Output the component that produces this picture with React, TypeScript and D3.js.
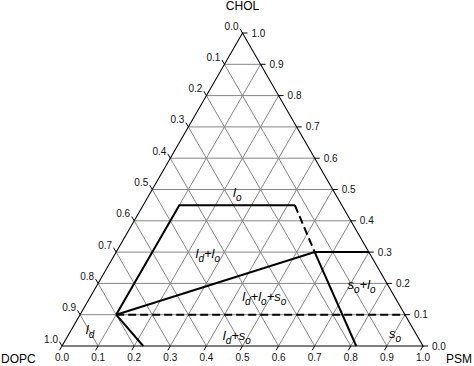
import React from "react";
import * as d3 from "d3";

// Ternary composition: each point is [PSM fraction, CHOL fraction]; DOPC = 1 - PSM - CHOL
type Comp = [number, number];

const tickValues = [0, 0.1, 0.2, 0.3, 0.4, 0.5, 0.6, 0.7, 0.8, 0.9, 1.0];
const tickLabels = ["0.0", "0.1", "0.2", "0.3", "0.4", "0.5", "0.6", "0.7", "0.8", "0.9", "1.0"];
const gridSteps = [0.1, 0.2, 0.3, 0.4, 0.5, 0.6, 0.7, 0.8, 0.9];

// Phase boundaries (solid)
const loBoundary: Comp[] = [[0.1, 0.1], [0.1, 0.45], [0.42, 0.45]];
const upperTieTriangle: Comp[] = [[0.1, 0.1], [0.55, 0.3], [0.7, 0.3]];
const soBoundary: Comp[] = [[0.55, 0.3], [0.815, 0.0]];
const ldBoundary: Comp[] = [[0.1, 0.1], [0.225, 0.0]];
// Phase boundaries (dashed)
const loTie: Comp[] = [[0.42, 0.45], [0.55, 0.3]];
const lowerTieTriangle: Comp[] = [[0.1, 0.1], [0.9, 0.1]];

// Phase region labels: [main, sub] parts, anchored at a composition
type Part = { t: string; sub?: boolean };
const phaseLabels: { parts: Part[]; at: Comp }[] = [
  { parts: [{ t: "l" }, { t: "o", sub: true }], at: [0.236, 0.476] },
  { parts: [{ t: "l" }, { t: "d", sub: true }, { t: "+l" }, { t: "o", sub: true }], at: [0.23, 0.28] },
  { parts: [{ t: "l" }, { t: "d", sub: true }, { t: "+l" }, { t: "o", sub: true }, { t: "+s" }, { t: "o", sub: true }], at: [0.427, 0.144] },
  { parts: [{ t: "s" }, { t: "o", sub: true }, { t: "+l" }, { t: "o", sub: true }], at: [0.70, 0.182] },
  { parts: [{ t: "l" }, { t: "d", sub: true }, { t: "+s" }, { t: "o", sub: true }], at: [0.436, 0.019] },
  { parts: [{ t: "s" }, { t: "o", sub: true }], at: [0.893, 0.026] },
  { parts: [{ t: "l" }, { t: "d", sub: true }], at: [0.047, 0.038] },
];

const W = 474;
const H = 366;
const xScale = d3.scaleLinear().domain([0, 1]).range([62, 423]);
const yScale = d3.scaleLinear().domain([0, 1]).range([346, 33]);

const px = ([p, c]: Comp): [number, number] => [xScale(p + c / 2), yScale(c)];

const line = d3
  .line<Comp>()
  .x((d) => px(d)[0])
  .y((d) => px(d)[1]);

const FONT = "'Liberation Sans', Arial, Helvetica, sans-serif";

export default function App() {
  const corners: Comp[] = [[0, 0], [1, 0], [0, 1], [0, 0]];
  const tickLen = 5;
  return (
    <div style={{ position: "fixed", left: 0, top: 0 }}>
      <svg width={W} height={H} style={{ display: "block", background: "#fff" }} fontFamily={FONT}>
        {/* grid */}
        <g stroke="#858585" strokeWidth={1} fill="none">
          {gridSteps.map((v) => (
            <g key={v}>
              <path d={line([[0, v], [1 - v, v]]) ?? ""} />
              <path d={line([[v, 0], [v, 1 - v]]) ?? ""} />
              <path d={line([[1 - v, 0], [0, 1 - v]]) ?? ""} />
            </g>
          ))}
        </g>
        {/* triangle frame */}
        <path d={line(corners) ?? ""} stroke="#000" strokeWidth={1.1} fill="none" />
        {/* ticks and labels */}
        <g fontSize={10} fill="#111">
          {tickValues.map((v, i) => {
            const [lx, ly] = px([0, 1 - v]);
            const [rx, ry] = px([1 - v, v]);
            const [bx, by] = px([v, 0]);
            return (
              <g key={v}>
                <line x1={lx} y1={ly} x2={lx - 0.5 * tickLen} y2={ly - 0.866 * tickLen} stroke="#000" />
                <text x={lx - 4} y={ly - 3.5} textAnchor="end">{tickLabels[i]}</text>
                <line x1={rx} y1={ry} x2={rx + tickLen} y2={ry} stroke="#000" />
                <text x={rx + 9} y={ry + 3.5}>{tickLabels[i]}</text>
                <line x1={bx} y1={by} x2={bx - 0.5 * tickLen} y2={by + 0.866 * tickLen} stroke="#000" />
                <text x={bx} y={361} textAnchor="middle">{tickLabels[i]}</text>
              </g>
            );
          })}
        </g>
        {/* phase boundaries */}
        <g stroke="#000" strokeWidth={2} fill="none" strokeLinejoin="miter">
          <path d={line(loBoundary) ?? ""} />
          <path d={line(upperTieTriangle) ?? ""} />
          <path d={line(soBoundary) ?? ""} />
          <path d={line(ldBoundary) ?? ""} />
          <path d={line(loTie) ?? ""} strokeDasharray="8,4" />
          <path d={line(lowerTieTriangle) ?? ""} strokeDasharray="8,4" />
        </g>
        {/* phase labels */}
        <g fontSize={13} fontStyle="italic" fill="#000">
          {phaseLabels.map((lab, i) => {
            const [x, y] = px(lab.at);
            return (
              <text key={i} x={x} y={y}>
                {lab.parts.map((p, j) =>
                  p.sub ? (
                    <tspan key={j} fontSize={10} dy={4}>{p.t}</tspan>
                  ) : (
                    <tspan key={j} dy={j > 0 ? -4 : 0}>{p.t}</tspan>
                  )
                )}
              </text>
            );
          })}
        </g>
        {/* component names */}
        <g fontSize={12} fill="#000">
          <text x={242.5} y={10} textAnchor="middle">CHOL</text>
          <text x={1} y={363}>DOPC</text>
          <text x={446} y={363}>PSM</text>
        </g>
      </svg>
    </div>
  );
}
